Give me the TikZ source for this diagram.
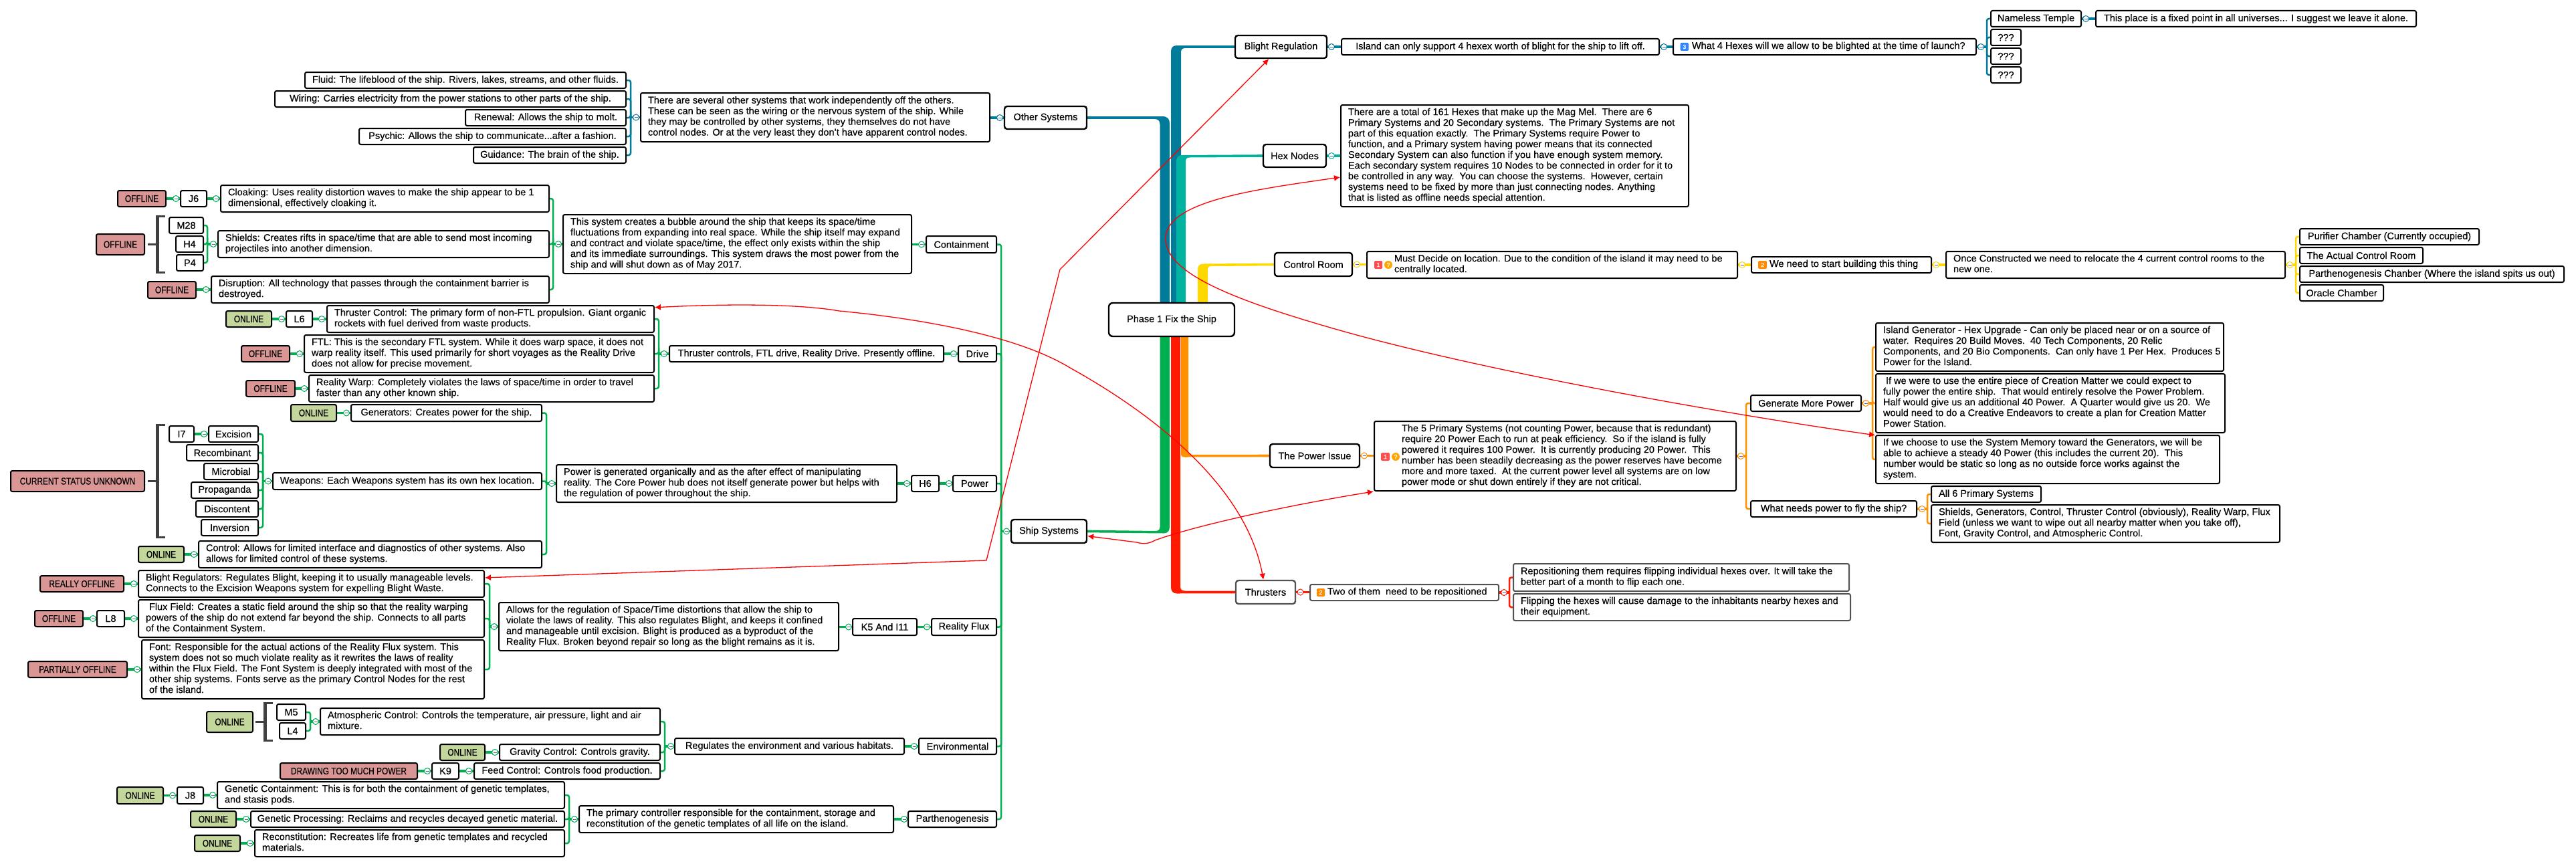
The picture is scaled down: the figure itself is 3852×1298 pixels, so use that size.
\documentclass[tikz,border=0pt]{standalone}
\usepackage{fontspec}
\setmainfont[FakeBold=0.4]{Liberation Sans}
\newfontfamily\capsfont[FakeBold=0.4,FakeStretch=0.82]{Liberation Sans}
\usetikzlibrary{arrows.meta,backgrounds}
\definecolor{cblue}{HTML}{007B9A}
\definecolor{cteal}{HTML}{00B3A0}
\definecolor{cyell}{HTML}{FFD800}
\definecolor{cgreen}{HTML}{00B050}
\definecolor{cred}{HTML}{FF1A00}
\definecolor{corange}{HTML}{FF9000}
\definecolor{con}{HTML}{C3D69B}
\definecolor{coff}{HTML}{D99694}
\definecolor{cbrk}{HTML}{404040}
\tikzset{
 x=1pt,y=-1pt,
 box/.style={draw=black,fill=white,line width=2pt,rounded corners=2.5pt,font=\fontsize{14.5}{16}\selectfont,text=black},
 gbox/.style={box,draw=black!68},
 lvl/.style={box,line width=2.4pt,rounded corners=4pt},
 glvl/.style={lvl,draw=black!68},
 rootn/.style={box,line width=2.4pt,rounded corners=6pt},
 onb/.style={box,fill=con,font=\capsfont\fontsize{14.5}{16}\selectfont},
 offb/.style={box,fill=coff,font=\capsfont\fontsize{14.5}{16}\selectfont},
 stubw/.style={line width=3.2pt},
 fanw/.style={line width=2.5pt,rounded corners=3pt},
 cmark/.style={circle,draw=#1,fill=white,line width=1pt,minimum size=9pt,inner sep=0pt,
   path picture={\draw[line width=.8pt,black!50!blue!60] ([xshift=-2.5pt]path picture bounding box.center) -- ([xshift=2.5pt]path picture bounding box.center);}},
 rel/.style={draw=red,line width=1.3pt,{Latex[length=9pt,width=9pt]}-{Latex[length=9pt,width=9pt]}},
 icon/.style={rounded corners=1.5pt,text=white,inner sep=0pt,font=\fontsize{9}{9}\selectfont},
}
\newcounter{ccn}
\newcommand{\cc}[2]{\stepcounter{ccn}\node[cmark=#1] (cc\arabic{ccn}) at (#2) {};}
% left-aligned multi-line box: [indent]{style}{name}{x0}{y0}{x1}{y1}{text}
\newcommand{\bx}[8][0]{%
 \pgfmathsetmacro\bxw{#6-#4}\pgfmathsetmacro\bxh{#7-#5}%
 \pgfmathsetmacro\bxcx{(#4+#6)/2}\pgfmathsetmacro\bxcy{(#5+#7)/2}%
 \pgfmathsetmacro\bxtw{\bxw-22}%
 \node[#2,minimum width=\bxw pt,minimum height=\bxh pt,inner xsep=11pt,inner ysep=0pt] (#3) at (\bxcx,\bxcy)
  {\hbox to \bxtw pt{\hskip #1pt\begin{tabular}{@{}l@{}}#8\end{tabular}\hss}};}
% centred single-line box
\newcommand{\cb}[7]{%
 \pgfmathsetmacro\bxw{#5-#3}\pgfmathsetmacro\bxh{#6-#4}%
 \pgfmathsetmacro\bxcx{(#3+#5)/2}\pgfmathsetmacro\bxcy{(#4+#6)/2}%
 \node[#1,minimum width=\bxw pt,minimum height=\bxh pt,inner sep=0pt] (#2) at (\bxcx,\bxcy) {#7};}
\newcommand{\ico}[7]{%
 \pgfmathsetmacro\bxw{#5-#3}\pgfmathsetmacro\bxh{#6-#4}%
 \pgfmathsetmacro\bxcx{(#3+#5)/2}\pgfmathsetmacro\bxcy{(#4+#6)/2}%
 \node[icon,fill=#2,minimum width=\bxw pt,minimum height=\bxh pt] (#1) at (\bxcx,\bxcy) {#7};}
\newcommand{\qmark}[3]{\node[icon,circle,fill=orange!70!yellow,minimum size=12pt] (#1) at (#2,#3) {?};}
\newcommand{\brk}[4]{%
 \fill[cbrk] (#1,#2) rectangle ++(14,3);
 \fill[cbrk] (#1,#2) rectangle (#1+5,#3);
 \fill[cbrk] (#1,#3-3) rectangle ++(14,3);
 \fill[cbrk] (#1-12,#4-1.5) rectangle (#1,#4+1.5);}
\newcommand{\fanL}[5]{%
 \coordinate (tb) at (#3,0);\coordinate (tc) at (#4,0);
 \begin{pgfonlayer}{background}
 \draw[stubw,draw=#1] (#2.west) -- (#2.west -| tb);
 \foreach \cn in {#5}{\draw[fanw,draw=#1] (#2.west -| tb) -- (\cn.east -| tb) -- (\cn.east);}
 \end{pgfonlayer}
 \cc{#1}{#2.west -| tc}}
\newcommand{\fanR}[5]{%
 \coordinate (tb) at (#3,0);\coordinate (tc) at (#4,0);
 \begin{pgfonlayer}{background}
 \draw[stubw,draw=#1] (#2.east) -- (#2.east -| tb);
 \foreach \cn in {#5}{\draw[fanw,draw=#1] (#2.east -| tb) -- (\cn.west -| tb) -- (\cn.west);}
 \end{pgfonlayer}
 \cc{#1}{#2.east -| tc}}
\newcommand{\linkL}[4]{%
 \coordinate (tc) at (#4,0);
 \begin{pgfonlayer}{background}\draw[stubw,draw=#1] (#2.west) -- (#2.west -| #3.east);\end{pgfonlayer}
 \cc{#1}{#2.west -| tc}}
\newcommand{\linkR}[4]{%
 \coordinate (tc) at (#4,0);
 \begin{pgfonlayer}{background}\draw[stubw,draw=#1] (#2.east) -- (#2.east -| #3.west);\end{pgfonlayer}
 \cc{#1}{#2.east -| tc}}
\begin{document}
\begin{tikzpicture}
\useasboundingbox (0,0) rectangle (3852,1298);
\begin{pgfonlayer}{background}\fill[white] (0,0) rectangle (3852,1298);\end{pgfonlayer}
% ---- root and first level
\cb{rootn}{root}{1658}{453}{1846}{503}{Phase 1 Fix the Ship}
\cb{lvl}{othersys}{1502}{159}{1625}{193}{Other Systems}
\cb{lvl}{ship}{1512}{777}{1625}{812}{Ship Systems}
\cb{lvl}{blightreg}{1847}{53}{1984}{87}{Blight Regulation}
\cb{lvl}{hexnodes}{1889}{216}{1983}{250}{Hex Nodes}
\cb{lvl}{controlroom}{1906}{378}{2022}{413}{Control Room}
\cb{lvl}{powerissue}{1899}{664}{2033}{699}{The Power Issue}
\cb{glvl}{thrusters}{1848}{868}{1937}{903}{Thrusters}
% ---- other systems
\bx{box}{othertxt}{958}{139}{1480}{212}{There are several other systems that work independently off the others.\\These can be seen as the wiring or the nervous system of the ship. While\\they may be controlled by other systems, they themselves do not have\\control nodes. Or at the very least they don't have apparent control nodes.}
\cb{box}{fluid}{456}{108}{936}{132}{Fluid: The lifeblood of the ship. Rivers, lakes, streams, and other fluids.}
\cb{box}{wiring}{411}{136}{936}{160}{Wiring: Carries electricity from the power stations to other parts of the ship.}
\cb{box}{renewal}{696}{164}{936}{188}{Renewal: Allows the ship to molt.}
\cb{box}{psychic}{537}{192}{936}{216}{Psychic: Allows the ship to communicate...after a fashion.}
\cb{box}{guidance}{708}{220}{936}{244}{Guidance: The brain of the ship.}
% ---- ship systems: containment
\cb{box}{contain}{1385}{353}{1490}{378}{Containment}
\bx{box}{conttxt}{842}{321}{1363}{409}{This system creates a bubble around the ship that keeps its space/time\\fluctuations from expanding into real space. While the ship itself may expand\\and contract and violate space/time, the effect only exists within the ship\\and its immediate surroundings. This system draws the most power from the\\ship and will shut down as of May 2017.}
\bx{box}{cloak}{330}{277}{821}{317}{Cloaking: Uses reality distortion waves to make the ship appear to be 1\\dimensional, effectively cloaking it.}
\bx{box}{shields}{326}{345}{821}{385}{Shields: Creates rifts in space/time that are able to send most incoming\\projectiles into another dimension.}
\bx{box}{disrupt}{316}{413}{821}{453}{Disruption: All technology that passes through the containment barrier is\\destroyed.}
\cb{box}{jsix}{270}{285}{309}{309}{J6}
\cb{offb}{offa}{176}{285}{248}{309}{OFFLINE}
\cb{box}{msm}{253}{325}{304}{349}{M28}
\cb{box}{hfour}{263}{353}{304}{377}{H4}
\cb{box}{pfour}{264}{381}{304}{405}{P4}
\cb{offb}{offb}{144}{350}{216}{381}{OFFLINE}
\cb{offb}{offc}{221}{421}{293}{446}{OFFLINE}
% ---- drive
\cb{box}{drive}{1433}{517}{1490}{541}{Drive}
\cb{box}{drivetxt}{1001}{517}{1411}{541}{Thruster controls, FTL drive, Reality Drive. Presently offline.}
\bx{box}{thrctl}{489}{457}{978}{497}{Thruster Control: The primary form of non-FTL propulsion. Giant organic\\rockets with fuel derived from waste products.}
\bx{box}{ftl}{455}{501}{978}{557}{FTL: This is the secondary FTL system. While it does warp space, it does not\\warp reality itself. This used primarily for short voyages as the Reality Drive\\does not allow for precise movement.}
\bx{box}{warp}{462}{561}{978}{601}{Reality Warp: Completely violates the laws of space/time in order to travel\\faster than any other known ship.}
\cb{box}{lsix}{428}{465}{467}{489}{L6}
\cb{onb}{ona}{338}{465}{406}{489}{ONLINE}
\cb{offb}{offd}{361}{517}{433}{541}{OFFLINE}
\cb{offb}{offe}{368}{569}{441}{593}{OFFLINE}
% ---- power
\cb{box}{power}{1425}{711}{1490}{735}{Power}
\cb{box}{hsix}{1363}{711}{1404}{735}{H6}
\bx{box}{powtxt}{832}{695}{1341}{751}{Power is generated organically and as the after effect of manipulating\\reality. The Core Power hub does not itself generate power but helps with\\the regulation of power throughout the ship.}
\cb{box}{gens}{525}{605}{810}{630}{Generators: Creates power for the ship.}
\cb{onb}{onb}{435}{605}{503}{630}{ONLINE}
\cb{box}{weapons}{408}{707}{810}{732}{Weapons: Each Weapons system has its own hex location.}
\cb{box}{excision}{312}{637}{386}{661}{Excision}
\cb{box}{iseven}{253}{637}{290}{661}{I7}
\cb{box}{recomb}{279}{665}{386}{689}{Recombinant}
\cb{box}{microbial}{305}{693}{386}{717}{Microbial}
\cb{box}{propa}{286}{721}{386}{745}{Propaganda}
\cb{box}{discont}{293}{749}{386}{773}{Discontent}
\cb{box}{invers}{301}{777}{386}{801}{Inversion}
\cb{offb}{unknown}{16}{704}{216}{735}{CURRENT STATUS UNKNOWN}
\bx{box}{control}{297}{809}{810}{849}{Control: Allows for limited interface and diagnostics of other systems. Also\\allows for limited control of these systems.}
\cb{onb}{onc}{207}{817}{275}{841}{ONLINE}
% ---- reality flux
\cb{box}{rflux}{1393}{925}{1490}{950}{Reality Flux}
\cb{box}{kfive}{1275}{925}{1371}{950}{K5 And I11}
\bx{box}{rftxt}{746}{901}{1254}{973}{Allows for the regulation of Space/Time distortions that allow the ship to\\violate the laws of reality. This also regulates Blight, and keeps it confined\\and manageable until excision. Blight is produced as a byproduct of the\\Reality Flux. Broken beyond repair so long as the blight remains as it is.}
\bx{box}{regs}{207}{853}{724}{893}{Blight Regulators: Regulates Blight, keeping it to usually manageable levels.\\Connects to the Excision Weapons system for expelling Blight Waste.}
\cb{offb}{really}{60}{861}{185}{885}{REALLY OFFLINE}
\bx{box}{flux}{207}{897}{724}{953}{\hspace*{5pt}Flux Field: Creates a static field around the ship so that the reality warping\\powers of the ship do not extend far beyond the ship. Connects to all parts\\of the Containment System.}
\cb{box}{leight}{145}{913}{186}{937}{L8}
\cb{offb}{offf}{52}{913}{124}{937}{OFFLINE}
\bx{box}{fontb}{212}{957}{724}{1045}{Font: Responsible for the actual actions of the Reality Flux system. This\\system does not so much violate reality as it rewrites the laws of reality\\within the Flux Field. The Font System is deeply integrated with most of the\\other ship systems. Fonts serve as the primary Control Nodes for the rest\\of the island.}
\cb{offb}{partly}{42}{989}{190}{1013}{PARTIALLY OFFLINE}
% ---- environmental
\cb{box}{env}{1374}{1104}{1490}{1128}{Environmental}
\cb{box}{envtxt}{1009}{1104}{1352}{1128}{Regulates the environment and various habitats.}
\bx{box}{atmos}{479}{1059}{987}{1099}{Atmospheric Control: Controls the temperature, air pressure, light and air\\mixture.}
\cb{box}{mfive}{414}{1053}{457}{1077}{M5}
\cb{box}{lfour}{418}{1081}{457}{1105}{L4}
\cb{onb}{ond}{309}{1064}{378}{1095}{ONLINE}
\cb{box}{gravity}{747}{1113}{987}{1137}{Gravity Control: Controls gravity.}
\cb{onb}{one}{658}{1113}{725}{1137}{ONLINE}
\cb{box}{feed}{709}{1141}{987}{1165}{Feed Control: Controls food production.}
\cb{box}{knine}{646}{1141}{686}{1165}{K9}
\cb{offb}{drawing}{419}{1141}{624}{1165}{DRAWING TOO MUCH POWER}
% ---- parthenogenesis
\cb{box}{parth}{1358}{1213}{1490}{1237}{Parthenogenesis}
\bx{box}{ptxt}{866}{1205}{1336}{1245}{The primary controller responsible for the containment, storage and\\reconstitution of the genetic templates of all life on the island.}
\bx{box}{gencont}{325}{1169}{844}{1209}{Genetic Containment: This is for both the containment of genetic templates,\\and stasis pods.}
\cb{box}{jeight}{265}{1177}{304}{1202}{J8}
\cb{onb}{onf}{175}{1177}{244}{1202}{ONLINE}
\cb{box}{genproc}{375}{1213}{844}{1237}{Genetic Processing: Reclaims and recycles decayed genetic material.}
\cb{onb}{ong}{285}{1213}{353}{1237}{ONLINE}
\bx{box}{recon}{381}{1241}{844}{1281}{Reconstitution: Recreates life from genetic templates and recycled\\materials.}
\cb{onb}{onh}{291}{1249}{359}{1273}{ONLINE}
% ---- right side: blight
\cb{box}{island}{2006}{58}{2481}{82}{Island can only support 4 hexex worth of blight for the ship to lift off.}
\bx[17]{box}{what}{2502}{58}{2955}{82}{What 4 Hexes will we allow to be blighted at the time of launch?}
\cb{box}{temple}{2977}{16}{3112}{40}{Nameless Temple}
\cb{box}{fixed}{3134}{16}{3613}{40}{This place is a fixed point in all universes... I suggest we leave it alone.}
\cb{box}{qa}{2977}{44}{3022}{68}{???}
\cb{box}{qb}{2977}{72}{3022}{96}{???}
\cb{box}{qc}{2977}{100}{3022}{124}{???}
% ---- hex nodes
\bx{box}{hextxt}{2005}{157}{2525}{309}{There are a total of 161 Hexes that make up the Mag Mel.\ \ There are 6\\Primary Systems and 20 Secondary systems.\ \ The Primary Systems are not\\part of this equation exactly.\ \ The Primary Systems require Power to\\function, and a Primary system having power means that its connected\\Secondary System can also function if you have enough system memory.\\Each secondary system requires 10 Nodes to be connected in order for it to\\be controlled in any way.\ \ You can choose the systems.\ \ However, certain\\systems need to be fixed by more than just connecting nodes. Anything\\that is listed as offline needs special attention.}
% ---- control room
\bx[30]{box}{must}{2044}{376}{2598}{416}{Must Decide on location. Due to the condition of the island it may need to be\\centrally located.}
\bx[16]{box}{weneed}{2619}{384}{2888}{408}{We need to start building this thing}
\bx{box}{once}{2910}{376}{3417}{416}{Once Constructed we need to relocate the 4 current control rooms to the\\new one.}
\cb{box}{purifier}{3439}{342}{3707}{366}{Purifier Chamber (Currently occupied)}
\cb{box}{actual}{3439}{370}{3623}{394}{The Actual Control Room}
\cb{box}{chanber}{3439}{398}{3834}{422}{Parthenogenesis Chanber (Where the island spits us out)}
\cb{box}{oracle}{3439}{426}{3564}{450}{Oracle Chamber}
% ---- power issue
\bx[30]{box}{five}{2055}{630}{2596}{734}{The 5 Primary Systems (not counting Power, because that is redundant)\\require 20 Power Each to run at peak efficiency.\ \ So if the island is fully\\powered it requires 100 Power.\ \ It is currently producing 20 Power.\ \ This\\number has been steadily decreasing as the power reserves have become\\more and more taxed.\ \ At the current power level all systems are on low\\power mode or shut down entirely if they are not critical.}
\cb{box}{genmore}{2618}{591}{2783}{615}{Generate More Power}
\cb{box}{whatneeds}{2618}{749}{2866}{773}{What needs power to fly the ship?}
\bx{box}{islandgen}{2805}{483}{3325}{555}{Island Generator - Hex Upgrade - Can only be placed near or on a source of\\water.\ \ Requires 20 Build Moves.\ \ 40 Tech Components, 20 Relic\\Components, and 20 Bio Components.\ \ Can only have 1 Per Hex.\ \ Produces 5\\Power for the Island.}
\bx{box}{ifwere}{2805}{559}{3327}{647}{\hspace*{4pt}If we were to use the entire piece of Creation Matter we could expect to\\fully power the entire ship.\ \ That would entirely resolve the Power Problem.\\Half would give us an additional 40 Power.\ \ A Quarter would give us 20.\ \ We\\would need to do a Creative Endeavors to create a plan for Creation Matter\\Power Station.}
\bx{box}{ifchoose}{2805}{651}{3319}{723}{If we choose to use the System Memory toward the Generators, we will be\\able to achieve a steady 40 Power (this includes the current 20).\ \ This\\number would be static so long as no outside force works against the\\system.}
\cb{box}{allsix}{2888}{727}{3052}{751}{All 6 Primary Systems}
\bx{box}{shieldsb}{2888}{755}{3409}{811}{Shields, Generators, Control, Thruster Control (obviously), Reality Warp, Flux\\Field (unless we want to wipe out all nearby matter when you take off),\\Font, Gravity Control, and Atmospheric Control.}
% ---- thrusters
\bx[15]{gbox}{two}{1959}{874}{2241}{898}{Two of them\ \ need to be repositioned}
\bx{gbox}{repos}{2263}{843}{2765}{884}{Repositioning them requires flipping individual hexes over. It will take the\\better part of a month to flip each one.}
\bx{gbox}{flip}{2263}{888}{2767}{928}{Flipping the hexes will cause damage to the inhabitants nearby hexes and\\their equipment.}
% ---- icons
\ico{icoa}{blue!60!cyan!80}{2512.5}{64}{2525}{76}{3}
\ico{icob}{red!70!white}{2055}{390}{2067}{402}{1}
\qmark{icoc}{2076}{396}
\ico{icod}{orange!90!yellow}{2629}{390}{2642}{402}{2}
\ico{icoe}{red!70!white}{2065}{677}{2078}{689}{1}
\qmark{icof}{2087}{683}
\ico{icog}{orange!90!yellow}{1969}{880}{1981}{892}{2}
% ---- grey brackets
\brk{233}{322}{409}{365}
\brk{233}{634}{805}{719}
\brk{393.5}{1050}{1109}{1079}
% ---- main branches
\begin{pgfonlayer}{background}
\fill[cblue] ([yshift=1.8pt]othersys.east) -- (1738,174) .. controls (1746,174) and (1749,178) .. (1749,185) -- (1749,460) -- (1734.5,460) -- (1734.5,186) .. controls (1734.5,180) and (1731,178) .. (1726,178) -- ([yshift=-1.8pt]othersys.east) -- cycle;
\fill[cblue] ([yshift=1.8pt]blightreg.west) -- (1760,68) .. controls (1754,68) and (1751,71) .. (1751,77) -- (1751,460) -- (1766,460) -- (1766,78) .. controls (1766,74) and (1768,72) .. (1772,72) -- ([yshift=-1.8pt]blightreg.west) -- cycle;
\fill[cteal] ([yshift=1.8pt]hexnodes.west) -- (1768,232) .. controls (1762,232) and (1759,235) .. (1759,241) -- (1759,460) -- (1773,460) -- (1773,241) .. controls (1773,237) and (1775,235.5) .. (1779,235.5) -- ([yshift=-1.8pt]hexnodes.west) -- cycle;
\fill[cyell] ([yshift=1.8pt]controlroom.west) -- (1800,394.5) .. controls (1794,394.5) and (1791,397) .. (1791,403) -- (1791,460) -- (1806,460) -- (1806,403) .. controls (1806,399.5) and (1808,398) .. (1812,398) -- ([yshift=-1.8pt]controlroom.west) -- cycle;
\fill[corange] ([yshift=1.8pt]powerissue.west) -- (1783,680) .. controls (1779,680) and (1777,678.5) .. (1777,675) -- (1777,495) -- (1766,495) -- (1766,678) .. controls (1766,681.5) and (1767,683.5) .. (1771,683.5) -- ([yshift=-1.8pt]powerissue.west) -- cycle;
\fill[cgreen] ([yshift=1.8pt]ship.east) -- (1728,794) .. controls (1732,794) and (1734.5,792) .. (1734.5,788) -- (1734.5,495) -- (1749,495) -- (1749,788) .. controls (1749,794) and (1746,797.5) .. (1740,797.5) -- ([yshift=-1.8pt]ship.east) -- cycle;
\fill[cred] ([yshift=1.8pt]thrusters.west) -- (1772,883.5) .. controls (1767,883.5) and (1765,881) .. (1765,877) -- (1765,495) -- (1751,495) -- (1751,878) .. controls (1751,884) and (1754,887.5) .. (1760,887.5) -- ([yshift=-1.8pt]thrusters.west) -- cycle;
\end{pgfonlayer}
% ---- fans and links, left
\linkL{cblue}{othersys}{othertxt}{1495}
\fanL{cblue}{othertxt}{943}{951}{fluid,wiring,renewal,psychic,guidance}
\fanL{cgreen}{ship}{1497}{1505}{contain,drive,power,rflux,env,parth}
\linkL{cgreen}{contain}{conttxt}{1378}
\fanL{cgreen}{conttxt}{827}{835}{cloak,shields,disrupt}
\linkL{cgreen}{cloak}{jsix}{323}
\linkL{cgreen}{jsix}{offa}{263}
\fanL{cgreen}{shields}{310}{319}{msm,hfour,pfour}
\linkL{cgreen}{disrupt}{offc}{308}
\linkL{cgreen}{drive}{drivetxt}{1426}
\fanL{cgreen}{drivetxt}{985}{993}{thrctl,ftl,warp}
\linkL{cgreen}{thrctl}{lsix}{481}
\linkL{cgreen}{lsix}{ona}{421}
\linkL{cgreen}{ftl}{offd}{448}
\linkL{cgreen}{warp}{offe}{455}
\linkL{cgreen}{power}{hsix}{1419}
\linkL{cgreen}{hsix}{powtxt}{1356}
\fanL{cgreen}{powtxt}{817}{825}{gens,weapons,control}
\linkL{cgreen}{gens}{onb}{518}
\fanL{cgreen}{weapons}{393}{401}{excision,recomb,microbial,propa,discont,invers}
\linkL{cgreen}{excision}{iseven}{305}
\linkL{cgreen}{control}{onc}{290}
\linkL{cgreen}{rflux}{kfive}{1386}
\linkL{cgreen}{kfive}{rftxt}{1269}
\fanL{cgreen}{rftxt}{732}{739}{regs,flux,fontb}
\linkL{cgreen}{regs}{really}{200}
\linkL{cgreen}{flux}{leight}{200}
\linkL{cgreen}{leight}{offf}{139}
\linkL{cgreen}{fontb}{partly}{205}
\linkL{cgreen}{env}{envtxt}{1367}
\fanL{cgreen}{envtxt}{994}{1003}{atmos,gravity,feed}
\fanL{cgreen}{atmos}{464}{472}{mfive,lfour}
\linkL{cgreen}{gravity}{one}{740}
\linkL{cgreen}{feed}{knine}{701}
\linkL{cgreen}{knine}{drawing}{639}
\linkL{cgreen}{parth}{ptxt}{1352}
\fanL{cgreen}{ptxt}{851}{859}{gencont,genproc,recon}
\linkL{cgreen}{gencont}{jeight}{318}
\linkL{cgreen}{jeight}{onf}{258}
\linkL{cgreen}{genproc}{ong}{368}
\linkL{cgreen}{recon}{onh}{374}
% ---- fans and links, right
\linkR{cblue}{blightreg}{island}{1991}
\linkR{cblue}{island}{what}{2488}
\fanR{cblue}{what}{2971}{2962}{temple,qa,qb,qc}
\linkR{cblue}{temple}{fixed}{3119}
\linkR{cteal}{hexnodes}{hextxt}{1991}
\linkR{cyell}{controlroom}{must}{2029}
\linkR{cyell}{must}{weneed}{2605}
\linkR{cyell}{weneed}{once}{2895}
\fanR{cyell}{once}{3433}{3424}{purifier,actual,chanber,oracle}
\linkR{corange}{powerissue}{five}{2040}
\fanR{corange}{five}{2611}{2603}{genmore,whatneeds}
\fanR{corange}{genmore}{2800}{2790}{islandgen,ifwere,ifchoose}
\fanR{corange}{whatneeds}{2882}{2874}{allsix,shieldsb}
\linkR{cred}{thrusters}{two}{1944.5}
\fanR{cred}{two}{2257}{2249}{repos,flip}
% ---- relations
\draw[rel] (blightreg.225) -- (1585,403) -- (1475,838) -- (regs.2.2);
\draw[rel] (thrctl.4) .. controls (1050,456) and (1180,452) .. (1255,465) .. controls (1340,473) and (1510,495) .. (1600,550) .. controls (1690,600) and (1860,710) .. (thrusters.100);
\draw[rel] (ship.-7.6) -- (1700,811) .. controls (1710,814) and (1718,813) .. (1727,808) .. controls (1790,785) and (1930,755) .. (five.south west);
\draw[rel] (hextxt.187) .. controls (1880,283) and (1743,300) .. (1743,357) .. controls (1743,410) and (1850,450) .. (2000,493) .. controls (2200,550) and (2550,615) .. (ifchoose.172.2);
\end{tikzpicture}
\end{document}
